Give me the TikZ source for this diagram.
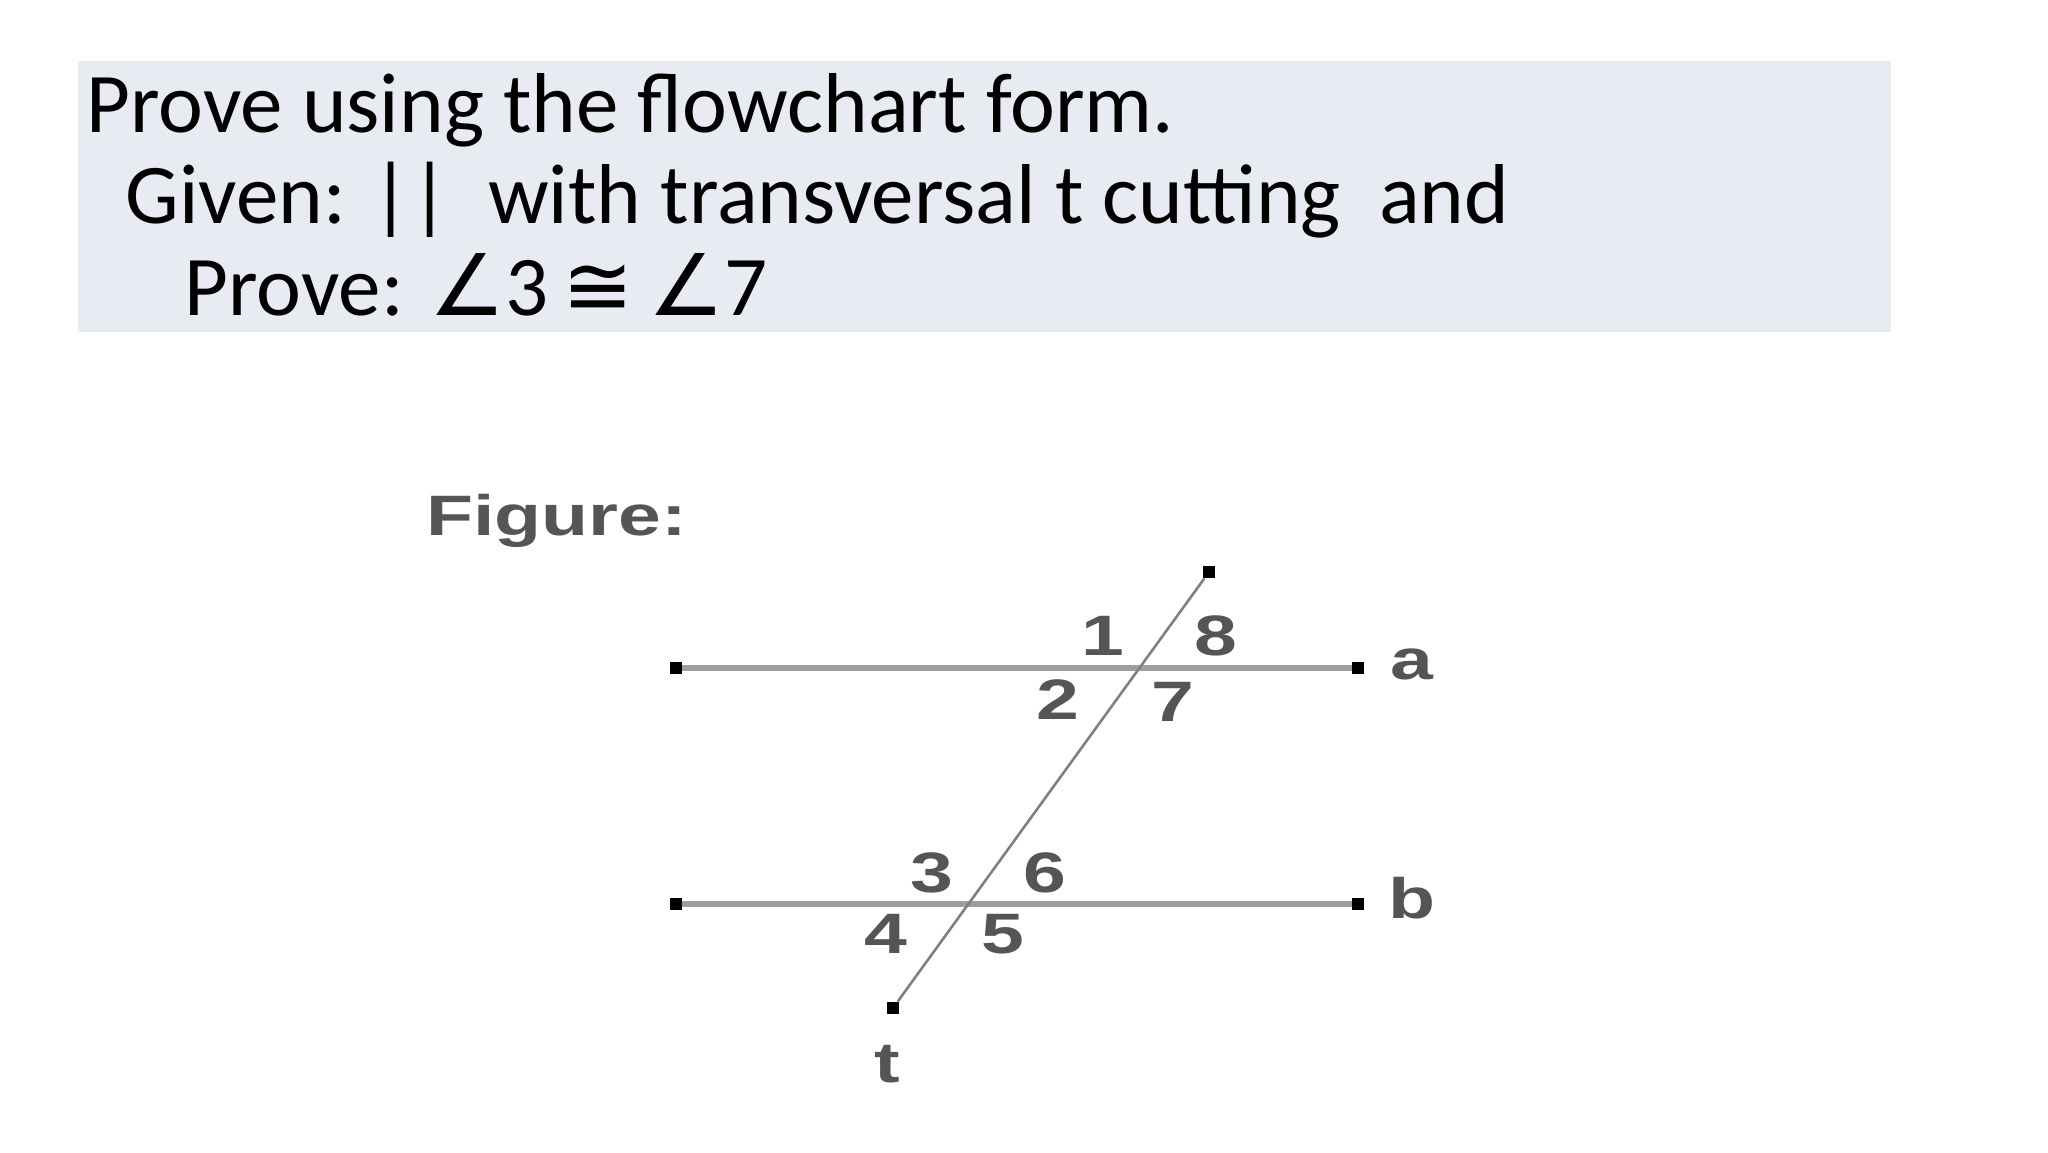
\documentclass[tikz,border=0pt]{standalone}
\usepackage{fontspec}
\setmainfont{Carlito}
\newfontfamily\figfont[FakeStretch=1.35]{Liberation Sans Bold}
\newfontfamily\symfont{DejaVu Sans}
\definecolor{boxfill}{RGB}{232,235,242}
\definecolor{figgray}{RGB}{85,85,85}

\begin{document}
\begin{tikzpicture}[x=0.5pt,y=-0.5pt,
    title/.style={anchor=base west,inner sep=0pt,font=\fontsize{42.5}{51}\selectfont},
    num/.style={inner sep=0pt,text=figgray,font=\figfont\fontsize{28.5}{28.5}\selectfont},
    dot/.style={fill=black,inner sep=0pt,minimum size=6pt},
    parline/.style={black!38,line width=2.6pt},
    transline/.style={black!50,line width=1.3pt}]
    \useasboundingbox (0,0) rectangle (2048,1152);
    \fill[boxfill] (78,61) rectangle (1891,332);

    % heading
    \node[title] (line1) at (86,132) {Prove using the flowchart form.};
    \node[title] (line2) at (125,223) {Given: ||\ \ with transversal t cutting\ \ and};
    \node[title] (line3) at (184,315) {Prove: {\symfont ∠}3\,{\symfont ≅}\,{\symfont ∠}7};

    % figure
    \node[num,anchor=base west] (fig) at (426,535) {Figure:};
    \node[dot] (aL) at (676,668) {};
    \node[dot] (aR) at (1358,668) {};
    \node[dot] (bL) at (676,904) {};
    \node[dot] (bR) at (1358,904) {};
    \node[dot] (tT) at (1209,572) {};
    \node[dot] (tB) at (893,1008) {};
    \draw[parline] (aL) -- (aR);
    \draw[parline] (bL) -- (bR);
    \draw[transline] (tT) -- (tB);

    \node[num] (n1) at (1103,636) {1};
    \node[num] (n8) at (1216,636) {8};
    \node[num] (n2) at (1058,700) {2};
    \node[num] (n7) at (1173,702) {7};
    \node[num] (n3) at (932,873) {3};
    \node[num] (n6) at (1045,873) {6};
    \node[num] (n4) at (886,934) {4};
    \node[num] (n5) at (1003,934) {5};
    \node[num] (la) at (1412,664) {a};
    \node[num] (lb) at (1412,898) {b};
    \node[num] (lt) at (887,1064) {t};
\end{tikzpicture}
\end{document}
